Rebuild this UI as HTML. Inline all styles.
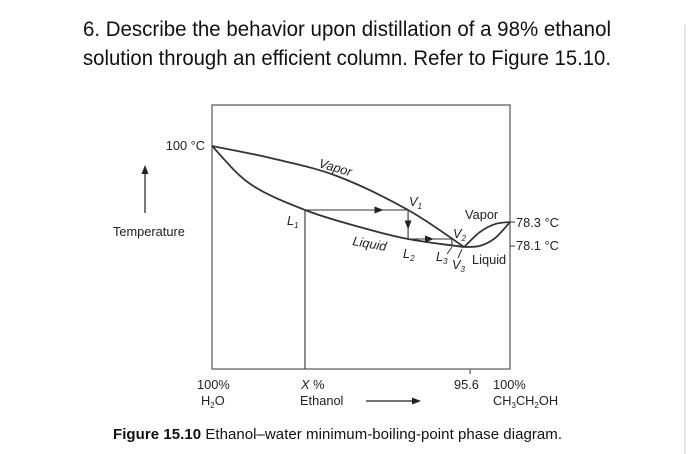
<!DOCTYPE html>
<html><head><meta charset="utf-8"><style>
body{margin:0;background:#fff;}
svg{display:block;font-family:"Liberation Sans",Arial,sans-serif;}
</style></head><body>
<svg width="700" height="454" viewBox="0 0 700 454">
<text x="83" y="36" font-size="21" fill="#111" textLength="528" lengthAdjust="spacingAndGlyphs">6. Describe the behavior upon distillation of a 98% ethanol</text>
<text x="83" y="65" font-size="21" fill="#111" textLength="528" lengthAdjust="spacingAndGlyphs">solution through an efficient column. Refer to Figure 15.10.</text>
<line x1="685" y1="25" x2="685" y2="454" stroke="#ccc" stroke-width="1"/>
<rect x="212" y="105" width="298" height="264" fill="none" stroke="#555" stroke-width="1.2"/>
<g id="plot"></g>
<g font-size="12.8" fill="#222">
<text x="205" y="150" text-anchor="end">100 °C</text>
<text x="516" y="227">78.3 °C</text>
<text x="516" y="250">78.1 °C</text>
<text x="113" y="236">Temperature</text>
<text x="318" y="167" font-style="italic" transform="rotate(16 318 167)">Vapor</text>
<text x="352" y="245" font-style="italic" transform="rotate(10 352 245)">Liquid</text>
<text x="465" y="219">Vapor</text>
<text x="472" y="264">Liquid</text>
<text x="287" y="225" font-style="italic">L<tspan font-size="8" dy="3">1</tspan></text>
<text x="409" y="206" font-style="italic">V<tspan font-size="8" dy="3">1</tspan></text>
<text x="403" y="258" font-style="italic">L<tspan font-size="8" dy="3">2</tspan></text>
<text x="453" y="238" font-style="italic">V<tspan font-size="8" dy="3">2</tspan></text>
<text x="436" y="261" font-style="italic">L<tspan font-size="8" dy="3">3</tspan></text>
<text x="452" y="269" font-style="italic">V<tspan font-size="8" dy="3">3</tspan></text>
<line x1="447" y1="254" x2="452" y2="247" stroke="#333" stroke-width="1"/>
<line x1="458" y1="258" x2="462" y2="249" stroke="#333" stroke-width="1"/>
<text x="197" y="389">100%</text>
<text x="201" y="405">H<tspan font-size="8" dy="3">2</tspan><tspan dy="-3">O</tspan></text>
<text x="301" y="389"><tspan font-style="italic">X</tspan> %</text>
<text x="300" y="405">Ethanol</text>
<text x="454" y="389">95.6</text>
<text x="493" y="389">100%</text>
<text x="493" y="405">CH<tspan font-size="8" dy="3">3</tspan><tspan dy="-3">CH</tspan><tspan font-size="8" dy="3">2</tspan><tspan dy="-3">OH</tspan></text>
</g>
<line x1="145" y1="213" x2="145" y2="172" stroke="#222" stroke-width="1.2"/>
<polygon points="145,165 141.5,174 148.5,174" fill="#222"/>
<line x1="366" y1="401" x2="414" y2="401" stroke="#222" stroke-width="1.2"/>
<polygon points="421,401 412,397.5 412,404.5" fill="#222"/>
<text x="113" y="439" font-size="15" fill="#111" textLength="449"><tspan font-weight="bold">Figure 15.10</tspan>   Ethanol–water minimum-boiling-point phase diagram.</text>
</svg>
<script>
const vaporComp=[0,20,42,65.8,84.6];
const vaporH=[100,94.5,86.5,71.3,54.7];
const liquidComp=[0,12.8,31.2,50,65.8,84.6];
const liquidH=[100,83,71.3,63.5,58.3,54.7];
const rVaporComp=[84.6,89.9,95,100];
const rVaporH=[54.7,61.4,65.0,65.9];
const rLiquidComp=[84.6,89.9,95,100];
const rLiquidH=[54.7,55.2,58.7,65.9];
const stepComp=[31.2,65.8,65.8,80.5,80.5];
const stepH=[71.3,71.3,58.3,58.3,54.9];
const xMark=31.2, aze=86.6;
const X=c=>212+c*2.98, Y=h=>369-h*2.23;
const NS='http://www.w3.org/2000/svg';
const g=document.getElementById('plot');
function smooth(cs,hs){const p=cs.map((c,i)=>[X(c),Y(hs[i])]);let d='M'+p[0];
for(let i=0;i<p.length-1;i++){const a=p[i-1]||p[i],b=p[i],c=p[i+1],e=p[i+2]||c;
d+=' C'+(b[0]+(c[0]-a[0])/6)+','+(b[1]+(c[1]-a[1])/6)+' '+(c[0]-(e[0]-b[0])/6)+','+(c[1]-(e[1]-b[1])/6)+' '+c;}return d;}
function path(d,name,w){const e=document.createElementNS(NS,'path');e.setAttribute('d',d);e.setAttribute('fill','none');e.setAttribute('stroke','#333');e.setAttribute('stroke-width',w);


g.appendChild(e);}
path(smooth(vaporComp,vaporH),'vapor-curve',1.8);
path(smooth(liquidComp,liquidH),'liquid-curve',1.8);
path(smooth(rVaporComp,rVaporH),'vapor-curve-right',1.8);
path(smooth(rLiquidComp,rLiquidH),'liquid-curve-right',1.8);
path('M'+stepComp.map((c,i)=>X(c)+','+Y(stepH[i])).join(' L'),'distillation-steps',1.1);
path('M'+X(xMark)+','+Y(liquidH[2])+' L'+X(xMark)+',369','x-composition-line',1.1);
path('M'+X(aze)+',369 L'+X(aze)+',374','azeotrope-tick',1);
path('M510,'+Y(65.9)+' L515,'+Y(65.9),'tick-78-3',1);
path('M510,246 L515,246','tick-78-1',1);
function arrow(x,y,dir,name){const e=document.createElementNS(NS,'polygon');
const pts=dir==='r'?[[x,y],[x-9,y-3.5],[x-9,y+3.5]]:[[x,y],[x-3.5,y-9],[x+3.5,y-9]];
e.setAttribute('points',pts.map(p=>p.join(',')).join(' '));e.setAttribute('fill','#222');


g.appendChild(e);}
arrow((X(stepComp[0])+X(stepComp[1]))/2+27,Y(stepH[0]),'r','arrow-l1-v1');
arrow(X(stepComp[1]),(Y(stepH[1])+Y(stepH[2]))/2+5,'d','arrow-v1-l2');
arrow((X(stepComp[2])+X(stepComp[3]))/2+4,Y(stepH[2]),'r','arrow-l2-v2');
</script>
</body></html>
